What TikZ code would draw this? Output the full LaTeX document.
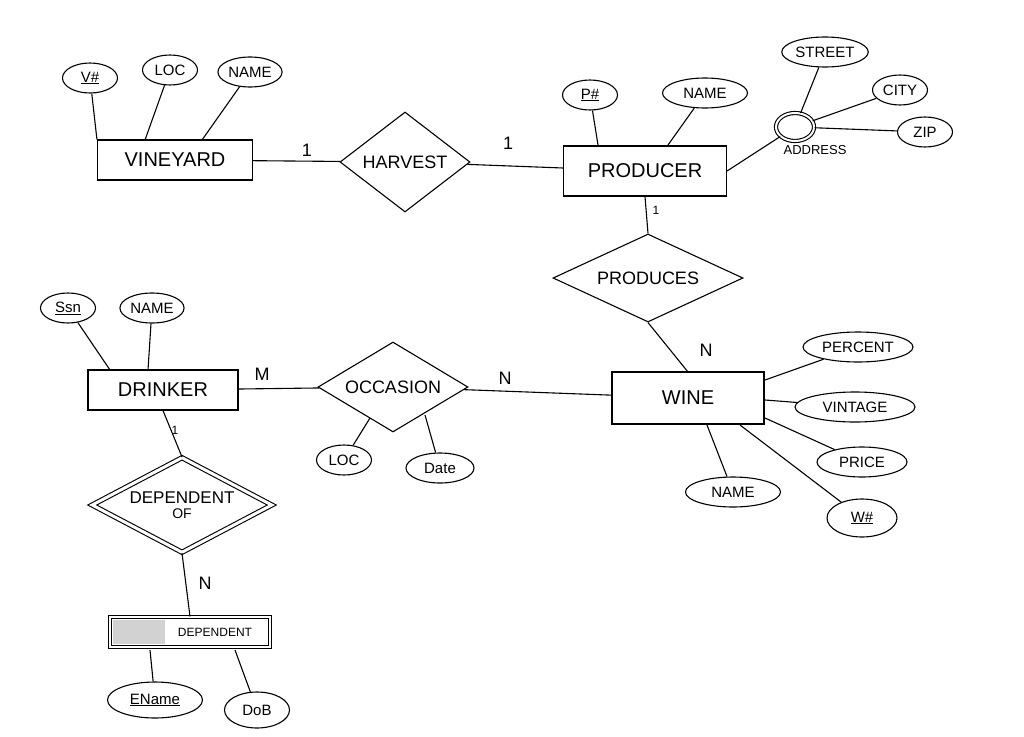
\documentclass[tikz,border=0pt]{standalone}
\usepackage{fontspec}
\setmainfont{Liberation Sans}
\usetikzlibrary{shapes.geometric}
\begin{document}
\begin{tikzpicture}[x=1pt,y=-1pt,line width=1.1pt,
  ent/.style={draw,rectangle,minimum height=40pt,font=\fontsize{20}{22}\selectfont},
  att/.style={draw,ellipse,inner sep=1pt,minimum height=30pt,minimum width=55pt,font=\fontsize{15}{16}\selectfont},
  rel/.style={draw,diamond,aspect=1.6,inner sep=1pt,font=\fontsize{18}{20}\selectfont},
  card/.style={font=\fontsize{18}{20}\selectfont}]
\useasboundingbox (0,0) rectangle (1024,736);
\fill[white] (0,0) rectangle (1024,736);
% Vineyard
\node[ent,minimum width=155pt] (vin) at (175,160) {VINEYARD};
\node[att] (vnum) at (90,78) {\underline{V\#}};
\node[att] (vloc) at (170,70) {LOC};
\node[att] (vname) at (250,72) {NAME};
\draw (vnum)--(vin.north west) (vloc)--(145,140) (vname)--(202,140);
% Harvest
\node[rel,minimum width=130pt,minimum height=100pt] (har) at (405,162) {HARVEST};
\draw (vin)--(har) (har)--(563,168);
\node[card] at (307,150) {1};
\node[card] at (508,143) {1};
% Producer
\node[ent,minimum width=163pt,minimum height=50pt] (pro) at (645,171) {PRODUCER};
\node[att] (pnum) at (590,95) {\underline{P\#}};
\node[att,minimum width=85pt] (pname) at (705,93) {NAME};
\draw (pnum)--(598,145) (pname)--(668,145);
\node[draw,ellipse,double,double distance=2pt,minimum width=38pt,minimum height=28pt] (addr) at (795,127) {};
\node[font=\fontsize{13}{14}\selectfont] at (815,150) {ADDRESS};
\node[att,minimum width=85pt] (street) at (825,52) {STREET};
\node[att] (city) at (900,90) {CITY};
\node[att] (zip) at (925,132) {ZIP};
\draw (pro.east)--(addr) (addr)--(street) (addr)--(city) (addr)--(zip);
% Produces
\node[rel,minimum width=190pt,minimum height=88pt] (prod) at (648,278) {PRODUCES};
\draw (pro.south)--(prod.north);
\node[font=\fontsize{12}{12}\selectfont] at (656,210) {1};
\node[card] at (706,350) {N};
% Wine
\node[ent,minimum width=152pt,minimum height=52pt] (wine) at (688,398) {WINE};
\draw (prod.south)--(688,372);
\node[att,minimum width=110pt] (perc) at (858,347) {PERCENT};
\node[att,minimum width=120pt] (vint) at (855,407) {VINTAGE};
\node[att,minimum width=90pt] (price) at (862,462) {PRICE};
\node[att,minimum width=70pt,minimum height=38pt] (wnum) at (862,518) {\underline{W\#}};
\node[att,minimum width=95pt] (wname) at (733,492) {NAME};
\draw (765,380)--(perc) (765,400)--(vint) (765,418)--(price) (740,425)--(wnum) (707,425)--(wname);
% Occasion
\node[rel,minimum width=150pt,minimum height=90pt] (occ) at (393,387) {OCCASION};
\node[att] (oloc) at (344,460) {LOC};
\node[att,minimum width=68pt] (odate) at (440,468) {Date};
\draw (370,418)--(oloc) (425,415)--(odate);
\node[card] at (262,374) {M};
\node[card] at (505,378) {N};
% Drinker
\node[ent,minimum width=150pt] (dri) at (163,390) {DRINKER};
\draw (dri)--(occ) (occ)--(wine);
\node[att] (ssn) at (68,308) {\underline{Ssn}};
\node[att] (dname) at (152,308) {NAME};
\draw (ssn)--(110,370) (dname)--(148,370);
\node[font=\fontsize{12}{12}\selectfont] at (175,430) {1};
% Dependent of
\node[draw,diamond,aspect=1.9,double,double distance=3pt,minimum width=180pt,minimum height=95pt,align=center,inner sep=0pt,font=\fontsize{17}{17}\selectfont] (depof) at (182,505) {DEPENDENT\\[-2pt]{\fontsize{14}{14}\selectfont OF}};
\draw (dri.south)--(depof.north);
\node[card] at (205,583) {N};
% Dependent
\node[draw,double,double distance=2pt,minimum width=160pt,minimum height=30pt,font=\fontsize{12}{12}\selectfont] (dep) at (190,632) {\hspace*{50pt}DEPENDENT};
\fill[gray!35] (113,620) rectangle (165,644);
\draw (depof.south)--(dep.north);
\node[att,minimum width=95pt,minimum height=36pt] (ename) at (155,700) {\underline{EName}};
\node[att,minimum width=65pt,minimum height=36pt] (dob) at (257,710) {DoB};
\draw (ename)--(150,650) (dob)--(235,650);
\end{tikzpicture}
\end{document}
